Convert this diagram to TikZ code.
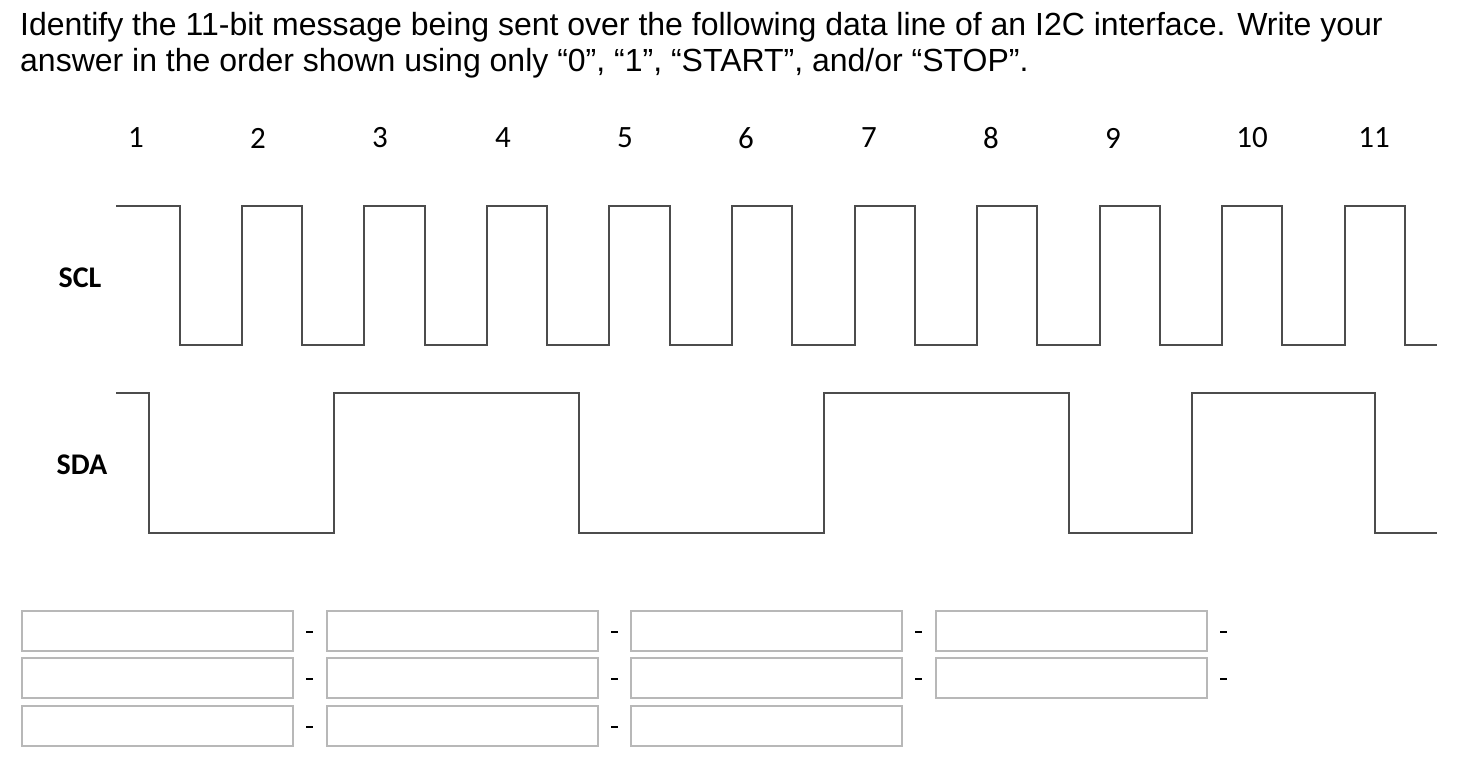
\documentclass[tikz,border=0pt]{standalone}
\usepackage{fontspec}
\setmainfont{Liberation Sans}
\newfontfamily\calib{Carlito}
\begin{document}
\begin{tikzpicture}[x=1pt,y=-1pt,
  wave/.style={draw=black!70,line width=1.6pt},
  ansbox/.style={draw=black!28,line width=1.2pt},
  num/.style={font=\calib\fontsize{31}{33}\selectfont,anchor=center,inner sep=0pt},
  sig/.style={font=\calib\bfseries\fontsize{30}{32}\selectfont,anchor=center,inner sep=0pt},
  dashmark/.style={draw=black,line width=2.4pt}]
\useasboundingbox (0,0) rectangle (1460,778);
\node[anchor=north west,align=left,inner sep=0pt,font=\fontsize{32}{36}\selectfont] (title) at (20,12)
 {Identify the 11-bit message being sent over the following data line of an I2C interface. Write your\\answer in the order shown using only “0”, “1”, “START”, and/or “STOP”.};
\foreach \x/\n [count=\i] in {136/1,258/2,380/3,503/4,625/5,746/6,869/7,991/8,1113/9,1252/10,1374/11}
  \node[num] (n\i) at (\x,138) {\n};
\node[sig] (scl) at (80,278) {SCL};
\node[sig] (sda) at (82,465) {SDA};
% SCL
\def\H{206}\def\L{345}
\draw[wave] (116,\H) -- (180,\H) -- (180,\L) -- (242,\L) -- (242,\H) -- (302,\H) -- (302,\L) -- (364,\L) -- (364,\H) -- (425,\H) -- (425,\L) -- (487,\L) -- (487,\H) -- (547,\H) -- (547,\L) -- (609,\L) -- (609,\H) -- (670,\H) -- (670,\L) -- (732,\L) -- (732,\H) -- (792,\H) -- (792,\L) -- (855,\L) -- (855,\H) -- (915,\H) -- (915,\L) -- (977,\L) -- (977,\H) -- (1037,\H) -- (1037,\L) -- (1100,\L) -- (1100,\H) -- (1160,\H) -- (1160,\L) -- (1222,\L) -- (1222,\H) -- (1282,\H) -- (1282,\L) -- (1345,\L) -- (1345,\H) -- (1405,\H) -- (1405,\L) -- (1437,\L);
% SDA
\def\SH{393}\def\SL{533}
\draw[wave] (116,\SH) -- (149,\SH) -- (149,\SL) -- (334,\SL) -- (334,\SH) -- (579,\SH) -- (579,\SL) -- (824,\SL) -- (824,\SH) -- (1069,\SH) -- (1069,\SL) -- (1192,\SL) -- (1192,\SH) -- (1375,\SH) -- (1375,\SL) -- (1437,\SL);
% answer boxes
\foreach \r/\y in {1/611,2/658,3/706}{
  \foreach \c/\x in {1/22,2/327,3/631,4/936}{
    \pgfmathtruncatemacro{\showbox}{(\r<3 || \c<4) ? 1 : 0}
    \pgfmathtruncatemacro{\showdash}{(\r<3 || \c<3) ? 1 : 0}
    \ifnum\showbox=1
      \draw[ansbox] (\x,\y) rectangle ++(271,40);
    \fi
    \ifnum\showdash=1
      \draw[dashmark] (\x+284,\y+21) -- ++(7,0);
    \fi
  }
}
\end{tikzpicture}
\end{document}
